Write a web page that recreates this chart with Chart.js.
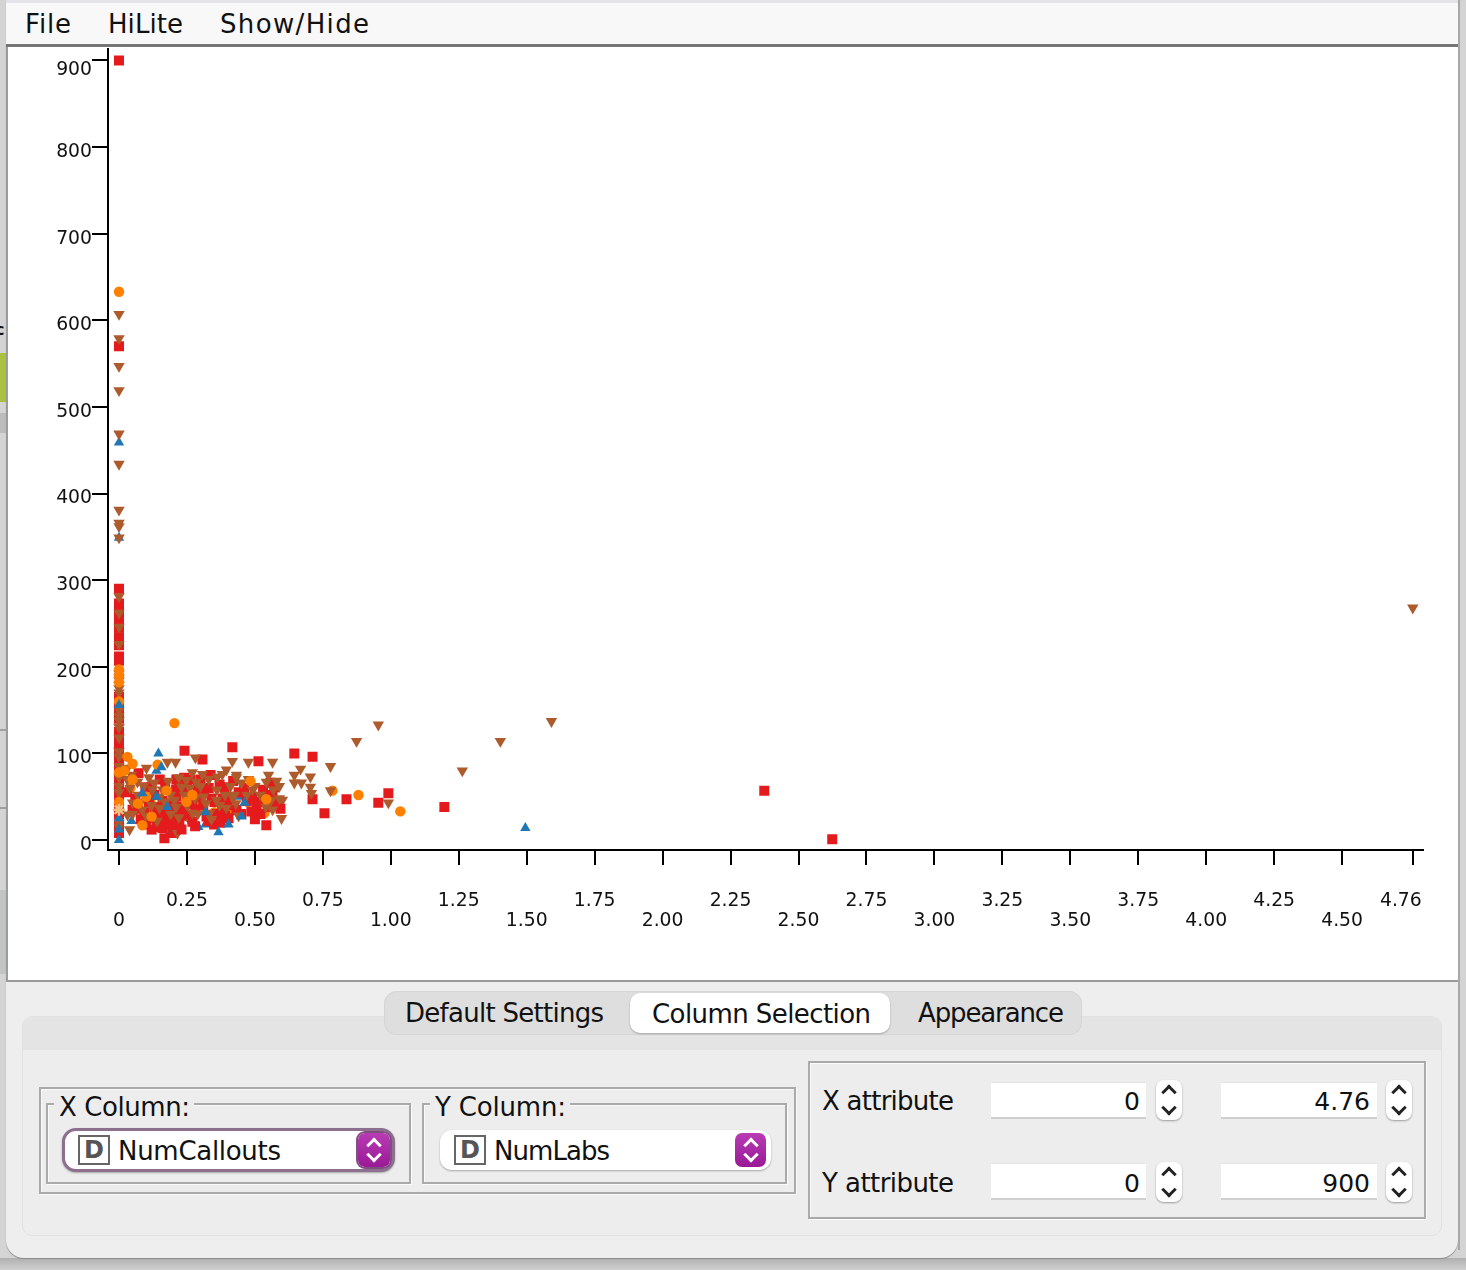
<!DOCTYPE html>
<html>
<head>
<meta charset="utf-8">
<title>NumCallouts / NumLabs</title>
<script src="https://cdn.jsdelivr.net/npm/chart.js@4"></script>
<style>
  html, body { margin: 0; padding: 0; background: #d4d4d4; }
  body { position: relative; width: 1466px; height: 1270px; overflow: hidden; font-family: "DejaVu Sans", sans-serif; color: #111; }
  .box { position: absolute; box-sizing: border-box; }
  .t { position: absolute; white-space: nowrap; line-height: 1; transform: translateY(-50%); }
  #plot { position: absolute; left: 6px; top: 40px; }
  .field { background: #fff; border-bottom: 2px solid #cfcfcf; border-top: 1px solid #e4e4e4; }
  .spin { background: #fff; border-radius: 8px; box-shadow: 0 1px 2px rgba(0,0,0,.35); }
  .spin::before, .spin::after, .drop::before, .drop::after {
    content: ""; position: absolute; width: 8px; height: 8px; left: 50%;
    border-left: 3px solid #222; border-top: 3px solid #222;
  }
  .spin::before { top: 25%; transform: translate(-50%, -30%) rotate(45deg); }
  .spin::after { bottom: 25%; transform: translate(-50%, 30%) rotate(225deg); }
  .drop { background: linear-gradient(#b83bb4, #9a1a96); border-radius: 7px; }
  .drop::before, .drop::after { border-color: #fff; }
  .drop::before { top: 28%; transform: translate(-50%, -30%) rotate(45deg); }
  .drop::after { bottom: 28%; transform: translate(-50%, 30%) rotate(225deg); }
  .group { border: 2px solid #aaa; box-shadow: 1px 1px 0 #fafafa, inset 1px 1px 0 #fafafa; }
  .select { background: #fff; border-radius: 12px; box-shadow: 0 1px 2px rgba(0,0,0,.3); }
  .dicon { border: 2px solid #666; background: #fff; color: #555; font-weight: bold; font-size: 24px; text-align: center; line-height: 26px; }
</style>
</head>
<body>
<!-- stuff behind the dialog, along its left edge -->
<div class="box" style="left:0;top:353px;width:6px;height:49px;background:#a9c13f"></div>
<div class="box" style="left:0;top:413px;width:6px;height:20px;background:#bcbcbc"></div>
<div class="box" style="left:0;top:729px;width:6px;height:2px;background:#a0a0a0"></div>
<div class="box" style="left:0;top:807px;width:6px;height:2px;background:#a0a0a0"></div>
<div class="box" style="left:0;top:890px;width:6px;height:84px;background:#c2c4c4"></div>
<div class="t" style="left:-5px;top:330px;font-size:16px;font-weight:bold">c</div>

<!-- window -->
<div class="box" style="left:0;top:1258px;width:1466px;height:12px;background:linear-gradient(#b0b0b0,#cfcfcf)"></div>
<div class="box" style="left:6px;top:0;width:1452px;height:1258px;background:#eee;border-radius:0 0 18px 18px;box-shadow:0 1px 1px #8a8a8a"></div>
<div class="box" style="left:1458px;top:0;width:2px;height:1250px;background:#a8a8a8"></div>
<div class="box" style="left:6px;top:0;width:1452px;height:3px;background:#e3e3e8"></div>
<div class="box" style="left:6px;top:3px;width:1452px;height:41px;background:#f8f8f8"></div>
<div class="box" style="left:6px;top:44px;width:1452px;height:3px;background:#757575"></div>
<div class="t" data-w="46" style="left:25px;top:24px;font-size:26px">File</div>
<div class="t" data-w="75" style="left:108px;top:24px;font-size:26px">HiLite</div>
<div class="t" data-w="149" style="left:220px;top:24px;font-size:26px">Show/Hide</div>

<!-- chart surface -->
<div class="box" style="left:6px;top:47px;width:2px;height:933px;background:#9c9c9c"></div>
<div class="box" style="left:8px;top:47px;width:1450px;height:933px;background:#fff"></div>
<div class="box" style="left:6px;top:980px;width:1452px;height:2px;background:#9a9a9a"></div>
<canvas id="plot" width="1452" height="940" style="width:1452px;height:940px"></canvas>

<!-- settings pane -->
<div class="box" style="left:22px;top:1016px;width:1420px;height:220px;background:#ededed;border:1px solid #e2e2e2;border-radius:10px"></div>
<div class="box" style="left:23px;top:1017px;width:1418px;height:33px;background:#e4e4e4;border-radius:9px 9px 0 0"></div>
<div class="box" style="left:384px;top:991px;width:698px;height:44px;background:#dedede;border-radius:13px;box-shadow:inset 0 0 0 1px #d6d6d6"></div>
<div class="box" style="left:630px;top:993px;width:260px;height:40px;background:#fff;border-radius:10px;box-shadow:0 1px 2px rgba(0,0,0,.25)"></div>
<div class="t" data-w="199" style="left:405px;top:1013px;font-size:26px">Default Settings</div>
<div class="t" data-w="219" style="left:652px;top:1014px;font-size:26px">Column Selection</div>
<div class="t" data-w="146" style="left:918px;top:1013px;font-size:26px">Appearance</div>

<!-- column pickers -->
<div class="box group" style="left:39px;top:1087px;width:757px;height:107px"></div>
<div class="box group" style="left:46px;top:1103px;width:365px;height:81px"></div>
<div class="box group" style="left:422px;top:1103px;width:365px;height:81px"></div>
<div class="box" style="left:54px;top:1098px;width:140px;height:12px;background:#ededed"></div>
<div class="box" style="left:430px;top:1098px;width:140px;height:12px;background:#ededed"></div>
<div class="t" data-w="131" style="left:59px;top:1107px;font-size:26px">X Column:</div>
<div class="t" data-w="131" style="left:435px;top:1107px;font-size:26px">Y Column:</div>

<div class="box select" style="left:62px;top:1128px;width:333px;height:44px;border:3px solid #8d6f8f;border-radius:14px"></div>
<div class="box dicon" style="left:78px;top:1135px;width:32px;height:30px">D</div>
<div class="t" data-w="163" style="left:118px;top:1151px;font-size:26px">NumCallouts</div>
<div class="box drop" style="left:358px;top:1133px;width:32px;height:34px;box-shadow:0 0 0 2px #7f4f80"></div>

<div class="box select" style="left:440px;top:1130px;width:331px;height:40px"></div>
<div class="box dicon" style="left:454px;top:1135px;width:32px;height:30px">D</div>
<div class="t" data-w="116" style="left:494px;top:1151px;font-size:26px">NumLabs</div>
<div class="box drop" style="left:735px;top:1133px;width:31px;height:34px"></div>

<!-- axis range controls -->
<div class="box group" style="left:808px;top:1061px;width:618px;height:158px"></div>
<div class="t" data-w="132" style="left:822px;top:1101px;font-size:26px">X attribute</div>
<div class="t" data-w="132" style="left:822px;top:1183px;font-size:26px">Y attribute</div>
<div class="box field" style="left:991px;top:1082px;width:155px;height:37px"></div>
<div class="box field" style="left:1221px;top:1082px;width:156px;height:37px"></div>
<div class="box field" style="left:991px;top:1163px;width:155px;height:37px"></div>
<div class="box field" style="left:1221px;top:1163px;width:156px;height:37px"></div>
<div class="t" style="right:326px;top:1101px;font-size:25px">0</div>
<div class="t" style="right:96px;top:1101px;font-size:25px">4.76</div>
<div class="t" style="right:326px;top:1183px;font-size:25px">0</div>
<div class="t" style="right:96px;top:1183px;font-size:25px">900</div>
<div class="box spin" style="left:1156px;top:1080px;width:26px;height:40px"></div>
<div class="box spin" style="left:1386px;top:1080px;width:26px;height:40px"></div>
<div class="box spin" style="left:1156px;top:1162px;width:26px;height:40px"></div>
<div class="box spin" style="left:1386px;top:1162px;width:26px;height:40px"></div>

<script>
  // Column order is [NumCallouts, NumLabs]. Arrays are split so overlaps stack the way they do in the view.
  var blueUnder = [
    [0, 459], [0, 349], [0, 253], [0.138, 80], [0.046, 22], [0.178, 25], [0.12, 10], [0.182, 6],
    [0.292, 15], [0.41, 32], [0.443, 50], [0.318, 18]
  ];
  var orangeUnder = [
    [0.785, 57], [0.116, 43], [0.042, 60], [0.296, 48], [0.351, 32], [0.473, 44], [0.535, 31],
    [0.142, 87], [0, 106], [0, 121], [0.3, 38], [0.4, 34], [0.19, 44]
  ];
  var redSquares = [
    [0, 900], [0, 570], [0, 290], [0, 273], [0, 263], [0, 255], [0, 245], [0, 234], [0, 225],
    [0, 212], [0, 207], [0, 165], [0, 155], [0, 150], [0, 140], [0, 125], [0, 118], [0, 110],
    [0, 100], [0, 92], [0, 82], [0, 70], [0, 66], [0, 58], [0, 50], [0, 40], [0, 30], [0, 18], [0, 8],
    [0.241, 103], [0.417, 107], [0.307, 93], [0.513, 91], [0.645, 100], [0.712, 96],
    [0.211, 70], [0.263, 70], [0.097, 61], [0.388, 61], [0.572, 61], [0.314, 58],
    [0.712, 47], [0.837, 47], [0.991, 54], [0.954, 43], [0.756, 31],
    [0.506, 40], [0.167, 2], [0.149, 15], [0.142, 31], [0.094, 32],
    [0.05, 35], [0.234, 38], [0.211, 50], [0.12, 61], [0.175, 27],
    [0.322, 27], [0.432, 35], [0.513, 44], [0.565, 52], [2.374, 57], [2.624, 1], [1.197, 38],
    [0.16, 45], [0.19, 40], [0.28, 35], [0.3, 50], [0.33, 60], [0.36, 30], [0.4, 40],
    [0.44, 55], [0.47, 45], [0.52, 30], [0.58, 44], [0.12, 25], [0.26, 28], [0.15, 70],
    [0.22, 60], [0.3, 70], [0.35, 18], [0.03, 55], [0.06, 48], [0.08, 24], [0.11, 44],
    [0.13, 52], [0.14, 20], [0.17, 62], [0.18, 36], [0.19, 22], [0.2, 14], [0.21, 58],
    [0.23, 28], [0.24, 72], [0.25, 62], [0.27, 42], [0.28, 16], [0.29, 60], [0.31, 40],
    [0.33, 22], [0.34, 48], [0.37, 64], [0.38, 36], [0.39, 28], [0.41, 50], [0.42, 68],
    [0.45, 30], [0.46, 60], [0.49, 50], [0.5, 24], [0.53, 58], [0.55, 38],
    [0.16, 32], [0.1, 18], [0.07, 36], [0.12, 12], [0.2, 8]
  ];
  var brownTriangles = [
    [0, 607], [0, 579], [0, 547], [0, 519], [0, 469], [0, 434], [0, 381], [0, 366],
    [0, 362], [0, 349], [0, 281], [0, 262], [0, 246], [0, 226],
    [0.954, 133], [0.874, 114], [0.778, 85], [0.668, 82], [0.645, 75], [0.645, 66],
    [0.671, 66], [0.704, 73], [0.704, 61], [0.708, 54], [0.778, 57], [0.991, 43],
    [0.565, 90], [0.476, 90], [0.417, 91], [0.281, 95], [0.178, 90], [0.208, 90],
    [0.101, 83], [0.395, 81], [1.591, 137], [1.403, 114], [1.263, 80], [4.76, 268],
    [0.598, 25], [0.215, 8], [0.039, 12], [0.171, 14], [0.601, 46], [0.259, 23]
  ];
  var redOver = [
    [0.072, 77], [0.337, 75], [0.252, 47], [0.252, 54], [0.381, 48], [0.351, 44], [0.373, 20],
    [0.542, 17], [0.487, 33], [0.557, 66], [0.594, 36], [0.211, 32], [0.222, 21], [0.27, 21],
    [0.403, 25], [0.16, 24], [0.16, 14], [0.19, 18], [0.23, 12], [0.15, 30], [0.13, 38],
    [0.2, 40], [0.24, 30], [0.25, 50], [0.25, 42], [0.26, 46]
  ];
  var brownOver = [
    [0, 192], [0, 188], [0, 184], [0, 179], [0, 175], [0, 170], [0, 150], [0, 143], [0, 138], [0, 130],
    [0, 118], [0, 102], [0, 96], [0, 85], [0, 72], [0, 62], [0, 55], [0, 20], [0, 15],
    [0.432, 75], [0.432, 72], [0.476, 70], [0.542, 67], [0.491, 58], [0.568, 58],
    [0.565, 35], [0.417, 50], [0.307, 76], [0.362, 73], [0.248, 69], [0.23, 61], [0.285, 67],
    [0.123, 58], [0.031, 83], [0.046, 75], [0.068, 67], [0.16, 58], [0.204, 46], [0.311, 50],
    [0.359, 46], [0.425, 52], [0.149, 37], [0.05, 43], [0.086, 35], [0.031, 29],
    [0.27, 31], [0.395, 37], [0.333, 31],
    [0.03, 70], [0.04, 60], [0.05, 30], [0.07, 52], [0.08, 44], [0.09, 62], [0.1, 28],
    [0.11, 72], [0.12, 40], [0.13, 66], [0.14, 22], [0.15, 50], [0.17, 44], [0.18, 68],
    [0.19, 52], [0.19, 30], [0.21, 38], [0.22, 72], [0.22, 26], [0.24, 52], [0.25, 40],
    [0.26, 60], [0.27, 78], [0.28, 48], [0.29, 30], [0.3, 62], [0.32, 42], [0.33, 70],
    [0.34, 24], [0.36, 58], [0.37, 40], [0.38, 76], [0.39, 52], [0.41, 62], [0.43, 42],
    [0.44, 28], [0.45, 66], [0.47, 52], [0.5, 62], [0.52, 52], [0.54, 38], [0.55, 75],
    [0.58, 68], [0.59, 62], [0.56, 46], [0.59, 48]
  ];
  var orangeOver = [
    [0, 633], [0, 197], [0, 190], [0, 182], [0, 160], [0, 78], [0, 44], [0.204, 135], [1.035, 33], [0.881, 52],
    [0.484, 68], [0.542, 47], [0.175, 57], [0.086, 17], [0.12, 27], [0.248, 44],
    [0.031, 96], [0.05, 70], [0.02, 80], [0.07, 42], [0.1, 50], [0.27, 52], [0.05, 88]
  ];
  var blueOver = [
    [1.495, 14], [0, 156], [0, 25], [0, 12], [0, 0], [0.145, 100], [0.156, 84],
    [0.086, 54], [0.138, 50], [0.178, 38], [0.318, 32], [0.366, 9], [0.403, 18],
    [0.451, 27], [0.462, 43]
  ];
  var peachStars = [[0, 35]];

  var xTicks = [0, 0.25, 0.5, 0.75, 1, 1.25, 1.5, 1.75, 2, 2.25, 2.5, 2.75, 3, 3.25, 3.5, 3.75, 4, 4.25, 4.5, 4.76];
  var yTicks = [0, 100, 200, 300, 400, 500, 600, 700, 800, 900];

  var colors = {
    red: "#e41a1c",
    brown: "#ad5a2c",
    blue: "#1f78b4",
    orange: "#ff7f00",
    peach: "#f6c080",
  };

  var axisFont = { family: '"DejaVu Sans", sans-serif', size: 18.8, lineHeight: 1.064 };

  function series(points, color, style, radius, rotation) {
    return {
      data: points.map(function (p) { return { x: p[0], y: p[1] }; }),
      showLine: false,
      pointStyle: style,
      pointRadius: radius,
      pointHoverRadius: radius,
      pointRotation: rotation || 0,
      pointBackgroundColor: color,
      pointBorderColor: color,
      pointBorderWidth: style === "star" ? 2.5 : 0,
    };
  }

  // Every other x label sits on a second row, and the last one is pulled in from the edge
  function xLabel(value, index) {
    if (value === 4.76) return ["4.76\u00a0\u00a0\u00a0\u00a0", ""];
    var text = value === 0 ? "0" : value.toFixed(2);
    return index % 2 === 1 ? [text, ""] : ["", text];
  }

  // Listed bottom layer first; Chart.js paints the first dataset last, hence the reverse
  var layers = [
    series(blueUnder, colors.blue, "triangle", 6),
    series(orangeUnder, colors.orange, "circle", 5.2),
    series(redSquares, colors.red, "rect", 7.07),
    series(brownTriangles, colors.brown, "triangle", 6.6, 180),
    series(redOver, colors.red, "rect", 7.07),
    series(brownOver, colors.brown, "triangle", 6.6, 180),
    series(orangeOver, colors.orange, "circle", 5.2),
    series(blueOver, colors.blue, "triangle", 6),
    series(peachStars, colors.peach, "star", 6),
  ].reverse();

  new Chart(document.getElementById("plot"), {
    type: "scatter",
    data: { datasets: layers },
    options: {
      responsive: false,
      animation: false,
      events: [],
      layout: { padding: { left: 0, right: 35, top: 2, bottom: 0 } },
      plugins: { legend: { display: false }, tooltip: { enabled: false } },
      scales: {
        x: {
          type: "linear",
          min: -0.0405,
          max: 4.7976,
          afterBuildTicks: function (axis) {
            axis.ticks = xTicks.map(function (v) { return { value: v }; });
          },
          afterFit: function (axis) {
            axis.height = 130;
            axis.paddingLeft = 0;
            axis.paddingRight = 0;
          },
          border: { color: "#000", width: 2 },
          grid: { drawOnChartArea: false, color: "#000", lineWidth: 2, tickLength: 15 },
          ticks: {
            autoSkip: false,
            maxRotation: 0,
            color: "#111",
            padding: 26,
            font: axisFont,
            callback: xLabel,
          },
        },
        y: {
          type: "linear",
          min: -11.54,
          max: 913.85,
          afterBuildTicks: function (axis) {
            axis.ticks = yTicks.map(function (v) { return { value: v }; });
          },
          afterFit: function (axis) {
            axis.width = 102;
            axis.paddingTop = 0;
            axis.paddingBottom = 0;
          },
          border: { color: "#000", width: 2 },
          grid: { drawOnChartArea: false, color: "#000", lineWidth: 2, tickLength: 16 },
          ticks: {
            color: "#111",
            padding: 0,
            labelOffset: 5,
            // the top label hangs lower than the rest: it is a two-line label with tight lines
            font: function (ctx) {
              if (ctx.tick && ctx.tick.value === 900) {
                return { family: axisFont.family, size: axisFont.size, lineHeight: 0.45 };
              }
              return axisFont;
            },
            callback: function (v) { return v === 900 ? ["", "900"] : String(v); },
          },
        },
      },
    },
  });

  // Stretch the interface labels to their column widths
  document.querySelectorAll(".t[data-w]").forEach(function (el) {
    var gaps = el.textContent.length - 1;
    var extra = parseFloat(el.dataset.w) - el.getBoundingClientRect().width;
    el.style.letterSpacing = (extra / gaps) + "px";
  });
</script>
</body>
</html>
